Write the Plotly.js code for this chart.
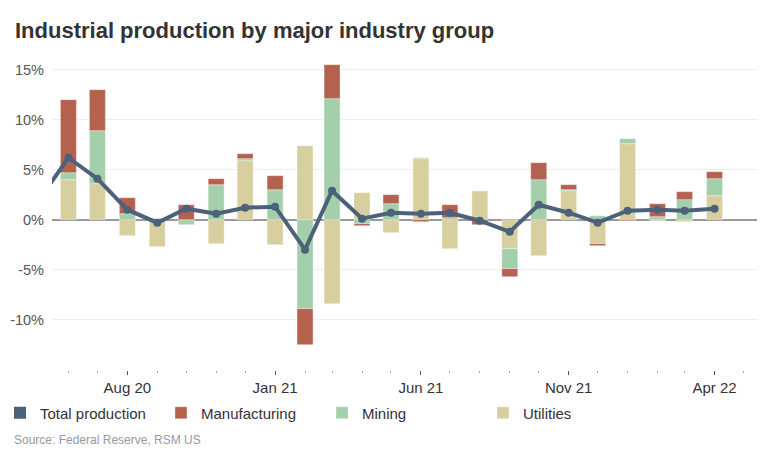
<!DOCTYPE html>
<html>
<head>
<meta charset="utf-8">
<script src="https://cdn.plot.ly/plotly-3.0.1.min.js"></script>
<style>
  html, body { margin: 0; padding: 0; background: #ffffff; }
  #chart { width: 768px; height: 453px; }
</style>
</head>
<body>
<div id="chart"></div>
<script>
// Monthly change in industrial production, percent
const months = [
  '2020-05-01', '2020-06-01', '2020-07-01', '2020-08-01', '2020-09-01', '2020-10-01',
  '2020-11-01', '2020-12-01', '2021-01-01', '2021-02-01', '2021-03-01', '2021-04-01',
  '2021-05-01', '2021-06-01', '2021-07-01', '2021-08-01', '2021-09-01', '2021-10-01',
  '2021-11-01', '2021-12-01', '2022-01-01', '2022-02-01', '2022-03-01', '2022-04-01'
];

const totalProduction = [1.9, 6.2, 4.1, 1.0, -0.3, 1.1, 0.6, 1.2, 1.3, -3.0, 2.9, 0.1,
                         0.7, 0.6, 0.7, -0.1, -1.2, 1.5, 0.7, -0.3, 0.9, 1.0, 0.9, 1.1];

const manufacturing = [null, 7.3, 4.1, 1.6, 0.1, 1.5, 0.6, 0.5, 1.4, -3.6, 3.4, -0.2,
                       0.9, -0.2, 1.3, -0.5, -0.8, 1.7, 0.5, -0.2, -0.1, 1.3, 0.8, 0.7];

const mining = [null, 0.7, 5.3, 0.6, 0.0, -0.5, 3.5, 0.2, 3.0, -8.9, 12.1, -0.4,
                1.6, 0.1, 0.2, 0.0, -2.0, 4.0, 0.1, 0.4, 0.5, 0.3, 2.0, 1.7];

const utilities = [null, 4.0, 3.6, -1.6, -2.7, 0.0, -2.4, 5.9, -2.5, 7.4, -8.4, 2.7,
                   -1.3, 6.1, -2.9, 2.9, -2.9, -3.6, 2.9, -2.4, 7.6, -0.1, -0.2, 2.4];

const yTickVals = [-10, -5, 0, 5, 10, 15];
const yTickText = ['-10%', '-5%', '0%', '5%', '10%', '15%'];

const COLORS = {
  total: '#4b627a',
  manufacturing: '#b5614f',
  mining: '#a3cfab',
  utilities: '#d8cf9e'
};

const FONT = '"Liberation Sans", Arial, Helvetica, sans-serif';
const barEdge = { width: 1, color: 'rgba(255,255,255,0.35)' };

const traces = [
  {
    type: 'bar', name: 'Utilities', x: months, y: utilities,
    marker: { color: COLORS.utilities, line: barEdge },
    legendrank: 4, hoverinfo: 'skip'
  },
  {
    type: 'bar', name: 'Mining', x: months, y: mining,
    marker: { color: COLORS.mining, line: barEdge },
    legendrank: 3, hoverinfo: 'skip'
  },
  {
    type: 'bar', name: 'Manufacturing', x: months, y: manufacturing,
    marker: { color: COLORS.manufacturing, line: barEdge },
    legendrank: 2, hoverinfo: 'skip'
  },
  // square swatch for the total line in the legend (no value, draws nothing)
  {
    type: 'bar', name: 'Total production', x: [months[0]], y: [null],
    marker: { color: COLORS.total },
    legendrank: 1, hoverinfo: 'skip'
  },
  {
    type: 'scatter', mode: 'lines+markers', name: 'Total production',
    x: months, y: totalProduction,
    line: { color: COLORS.total, width: 4 },
    marker: { color: COLORS.total, size: 8 },
    showlegend: false, cliponaxis: true, hoverinfo: 'skip'
  }
];

const layout = {
  width: 768,
  height: 453,
  paper_bgcolor: '#ffffff',
  plot_bgcolor: '#ffffff',
  font: { family: FONT, size: 15, color: '#333333' },
  margin: { l: 52, r: 11, t: 58, b: 83 },
  barmode: 'relative',
  bargap: 0.41,
  title: {
    text: '<b>Industrial production by major industry group</b>',
    font: { family: FONT, size: 22, color: '#333333' },
    xref: 'container', x: 15 / 768, xanchor: 'left',
    yref: 'container', y: 1 - 30.5 / 453, yanchor: 'middle'
  },
  xaxis: {
    type: 'date',
    range: ['2020-05-15', '2022-05-15'],
    tick0: '2020-08-01',
    dtick: 'M5',
    tickformat: '%b %y',
    ticks: 'outside',
    ticklen: 4,
    tickwidth: 1,
    tickcolor: '#555555',
    tickfont: { family: FONT, size: 15, color: '#333333' },
    showgrid: false,
    showline: false,
    zeroline: false,
    minor: {
      tick0: '2020-06-01',
      dtick: 'M1',
      ticks: 'outside',
      ticklen: 2,
      tickwidth: 1,
      tickcolor: '#aaaaaa',
      showgrid: false
    }
  },
  yaxis: {
    range: [-15.03, 16.17],
    tickvals: yTickVals,
    ticktext: yTickText,
    tickfont: { family: FONT, size: 14.5, color: '#555555' },
    ticklabelstandoff: 7,
    showgrid: true,
    gridcolor: '#eeeeee',
    gridwidth: 1.5,
    zeroline: true,
    zerolinecolor: '#999999',
    zerolinewidth: 2,
    showline: false,
    ticks: ''
  },
  legend: {
    orientation: 'h',
    xref: 'container', x: -4 / 768, xanchor: 'left',
    yref: 'container', y: (453 - 413) / 453, yanchor: 'middle',
    entrywidth: 116,
    entrywidthmode: 'pixels',
    font: { family: FONT, size: 15, color: '#333333' },
    bgcolor: 'rgba(0,0,0,0)',
    traceorder: 'normal'
  },
  annotations: [
    {
      text: 'Source: Federal Reserve, RSM US',
      xref: 'paper', x: (12 - 52) / 705, xanchor: 'left',
      yref: 'paper', y: -(440 - 370) / 312, yanchor: 'middle',
      showarrow: false,
      font: { family: FONT, size: 12, color: '#999999' }
    }
  ]
};

Plotly.newPlot('chart', traces, layout, { displayModeBar: false, staticPlot: true });
</script>
</body>
</html>
